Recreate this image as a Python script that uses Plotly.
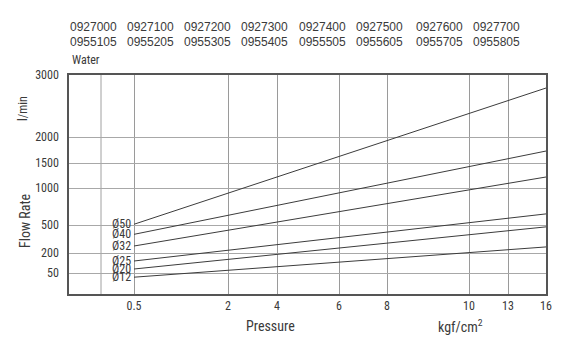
import numpy as np
import plotly.graph_objects as go

# ---- data ----
series_names = ["Ø50", "Ø40", "Ø32", "Ø25", "Ø20", "Ø12"]
pressure = [0.5, 16]
flow_start = [510, 400, 275, 140, 80, 40]
flow_end = [2790, 1730, 1220, 650, 480, 265]

# axis tick labels (the chart uses an irregular scale)
x_tick_values = [0.25, 0.5, 2, 4, 6, 8, 10, 13, 16]
x_tick_labels = ["0.25", "0.5", "2", "4", "6", "8", "10", "13", "16"]
x_labelled = [0.5, 2, 4, 6, 8, 10, 13, 16]
y_tick_values = [0, 50, 200, 500, 1000, 1500, 2000, 3000]
y_labelled = [50, 200, 500, 1000, 1500, 2000, 3000]

codes_top = ["0927000", "0927100", "0927200", "0927300", "0927400", "0927500", "0927600", "0927700"]
codes_bottom = ["0955105", "0955205", "0955305", "0955405", "0955505", "0955605", "0955705", "0955805"]

# ---- irregular scale definition (value -> axis position) ----
x_scale_pos = [32, 65, 159, 208, 270, 318, 400, 439, 477]
y_scale_pos = [0, 21, 41, 69, 106, 131, 157, 219]


def sx(v):
    return np.interp(v, x_tick_values, x_scale_pos)


def sy(v):
    return np.interp(v, y_tick_values, y_scale_pos)


FONT = "Liberation Sans Narrow, Arial Narrow, Roboto Condensed, Liberation Sans, Arial, sans-serif"
FONT_N = "Liberation Sans, Arial, sans-serif"
TXT = "#3a3a3a"

fig = go.Figure()
for name, a, b in zip(series_names, flow_start, flow_end):
    fig.add_trace(go.Scatter(
        x=sx(pressure), y=sy([a, b]), mode="lines",
        line=dict(color="#3c3c3c", width=1), name=name, showlegend=False,
        hoverinfo="skip"))
    fig.add_annotation(x=sx(pressure[0]), y=sy(a), text=name, showarrow=False,
                       xanchor="right", yanchor="middle", xshift=-1,
                       font=dict(family=FONT, size=12, color=TXT))

# unlabelled grid line
fig.add_shape(type="line", xref="x", yref="paper", x0=sx(0.25), x1=sx(0.25), y0=0, y1=1,
              line=dict(color="#a0a0a0", width=1), layer="below")

fig.update_xaxes(range=[0, 477], tickmode="array", tickvals=sx(x_labelled),
                 ticktext=[str(v) for v in x_labelled], showgrid=True, gridcolor="#9a9a9a", gridwidth=1,
                 zeroline=False, showline=True, linecolor="#555555", linewidth=1.5,
                 mirror=True, ticks="", tickfont=dict(family=FONT, size=12, color=TXT))
fig.update_yaxes(range=[0, 219], tickmode="array", tickvals=sy(y_labelled),
                 ticktext=[str(v) for v in y_labelled], showgrid=True, gridcolor="#a8a8a8", gridwidth=1,
                 zeroline=False, showline=True, linecolor="#555555", linewidth=1.5,
                 mirror=True, ticks="", ticklabelstandoff=6,
                 tickfont=dict(family=FONT, size=12, color=TXT))

PX = lambda px: (px - 69) / 477
PY = lambda py: (294 - py) / 219

# top product codes
code_x = [93, 150, 207, 264, 322, 379, 439, 496]
for cx, t, bt in zip(code_x, codes_top, codes_bottom):
    fig.add_annotation(x=PX(cx), y=PY(27), xref="paper", yref="paper",
                       text=t, showarrow=False, xanchor="center", yanchor="middle",
                       font=dict(family=FONT_N, size=12, color=TXT))
    fig.add_annotation(x=PX(cx), y=PY(42), xref="paper", yref="paper",
                       text=bt, showarrow=False, xanchor="center", yanchor="middle",
                       font=dict(family=FONT_N, size=12, color=TXT))

fig.add_annotation(x=PX(70), y=PY(60), xref="paper", yref="paper", text="Water",
                   showarrow=False, xanchor="left", yanchor="middle",
                   font=dict(family=FONT, size=12, color=TXT))
fig.add_annotation(x=PX(23), y=PY(109), xref="paper", yref="paper", text="l/min",
                   showarrow=False, textangle=-90, xanchor="center", yanchor="middle",
                   font=dict(family=FONT, size=12, color=TXT))
fig.add_annotation(x=PX(25), y=PY(221), xref="paper", yref="paper", text="Flow Rate",
                   showarrow=False, textangle=-90, xanchor="center", yanchor="middle",
                   font=dict(family=FONT, size=14, color=TXT))
fig.add_annotation(x=PX(270), y=PY(326), xref="paper", yref="paper", text="Pressure",
                   showarrow=False, xanchor="center", yanchor="middle",
                   font=dict(family=FONT, size=14, color=TXT))
fig.add_annotation(x=PX(460), y=PY(326), xref="paper", yref="paper",
                   text="kgf/cm<sup>2</sup>",
                   showarrow=False, xanchor="center", yanchor="middle",
                   font=dict(family=FONT, size=14, color=TXT))

fig.update_layout(width=579, height=360, margin=dict(l=69, r=33, t=75, b=66),
                  paper_bgcolor="white", plot_bgcolor="white")

fig.write_html("out.html")
